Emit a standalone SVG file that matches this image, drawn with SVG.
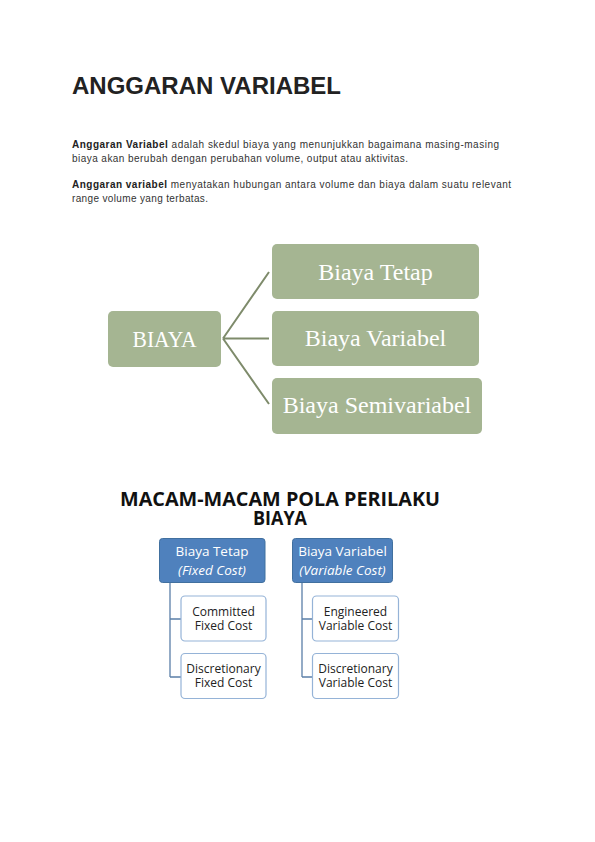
<svg xmlns="http://www.w3.org/2000/svg" width="595" height="842" viewBox="0 0 595 842">
<style>
.para{font-family:"Liberation Sans",Arial,sans-serif;font-size:10px;fill:#333;}
.b{font-weight:bold;fill:#222;}
.gbox{fill:#a5b592;}
.gtxt{font-family:"Liberation Serif","DejaVu Serif",serif;font-size:24px;fill:#fff;text-anchor:middle;}
.gline{stroke:#7e8b6b;stroke-width:2;fill:none;}
.hbox{fill:#4f81bd;stroke:#41709f;stroke-width:1;}
.htxt{font-family:"Open Sans","Liberation Sans",sans-serif;font-size:13.5px;fill:#fff;text-anchor:middle;}
.cbox{fill:#fff;stroke:#95b3d7;stroke-width:1.2;}
.ctxt{font-family:"Open Sans","Liberation Sans",sans-serif;font-size:12px;fill:#222;text-anchor:middle;}
.bline{stroke:#5b7fa8;stroke-width:1.3;fill:none;}
.ttl{font-family:"Open Sans","Liberation Sans",sans-serif;font-weight:bold;font-size:20px;fill:#111;text-anchor:middle;}
</style>
<rect width="595" height="842" fill="#fff"/>
<text x="72" y="94" font-family="Liberation Sans, Arial, sans-serif" font-weight="bold" font-size="24" fill="#222" textLength="269" lengthAdjust="spacingAndGlyphs">ANGGARAN VARIABEL</text>
<text class="para" x="72" y="148" textLength="427" lengthAdjust="spacing"><tspan class="b">Anggaran Variabel</tspan> adalah skedul biaya yang menunjukkan bagaimana masing-masing</text>
<text class="para" x="72" y="162" textLength="336" lengthAdjust="spacing">biaya akan berubah dengan perubahan volume, output atau aktivitas.</text>
<text class="para" x="72" y="188" textLength="439" lengthAdjust="spacing"><tspan class="b">Anggaran variabel</tspan> menyatakan hubungan antara volume dan biaya dalam suatu relevant</text>
<text class="para" x="72" y="202" textLength="136" lengthAdjust="spacing">range volume yang terbatas.</text>

<g id="connectors-biaya">
<path class="gline" d="M223,338.5 L269,272 M223,338.5 L269,338.5 M223,338.5 L269,404"/>
</g>
<g id="node-biaya">
<rect class="gbox" x="108" y="311" width="113" height="56" rx="5"/>
<text class="gtxt" x="164.5" y="347" textLength="64" lengthAdjust="spacingAndGlyphs">BIAYA</text>
</g>
<g id="node-tetap">
<rect class="gbox" x="272" y="244" width="207" height="55" rx="5"/>
<text class="gtxt" x="375.5" y="280">Biaya Tetap</text>
</g>
<g id="node-variabel">
<rect class="gbox" x="272" y="311" width="207" height="55" rx="5"/>
<text class="gtxt" x="375.5" y="346">Biaya Variabel</text>
</g>
<g id="node-semivariabel">
<rect class="gbox" x="272" y="378" width="210" height="56" rx="5"/>
<text class="gtxt" x="377" y="413">Biaya Semivariabel</text>
</g>

<text class="ttl" x="280" y="506" textLength="320" lengthAdjust="spacingAndGlyphs">MACAM-MACAM POLA PERILAKU</text>
<text class="ttl" x="280" y="525" textLength="54" lengthAdjust="spacingAndGlyphs">BIAYA</text>

<g id="connectors-pola">
<path class="bline" d="M170,583 V677 M170,619 H181 M170,677 H181"/>
<path class="bline" d="M302,583 V677 M302,619 H312 M302,677 H312"/>
</g>
<g id="node-fixed">
<rect class="hbox" x="159.5" y="538.5" width="105.5" height="44" rx="3"/>
<text class="htxt" x="212" y="556">Biaya Tetap</text>
<text class="htxt" x="212" y="575" font-style="italic">(Fixed Cost)</text>
</g>
<g id="node-varcost">
<rect class="hbox" x="292.5" y="538.5" width="100" height="44" rx="3"/>
<text class="htxt" x="342.5" y="556">Biaya Variabel</text>
<text class="htxt" x="342.5" y="575" font-style="italic">(Variable Cost)</text>
</g>
<g id="node-committed">
<rect class="cbox" x="181" y="596" width="85" height="45" rx="4"/>
<text class="ctxt" x="223.5" y="616">Committed</text>
<text class="ctxt" x="223.5" y="630">Fixed Cost</text>
</g>
<g id="node-discfixed">
<rect class="cbox" x="181" y="653.5" width="85" height="45" rx="4"/>
<text class="ctxt" x="223.5" y="673">Discretionary</text>
<text class="ctxt" x="223.5" y="687">Fixed Cost</text>
</g>
<g id="node-engineered">
<rect class="cbox" x="312.5" y="596" width="86" height="45" rx="4"/>
<text class="ctxt" x="355.5" y="616">Engineered</text>
<text class="ctxt" x="355.5" y="630">Variable Cost</text>
</g>
<g id="node-discvar">
<rect class="cbox" x="312.5" y="653.5" width="86" height="45" rx="4"/>
<text class="ctxt" x="355.5" y="673">Discretionary</text>
<text class="ctxt" x="355.5" y="687">Variable Cost</text>
</g>
</svg>
